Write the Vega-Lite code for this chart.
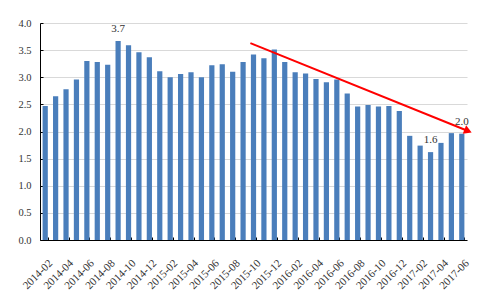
{
  "$schema": "https://vega.github.io/schema/vega-lite/v6.json",
  "width": 427,
  "height": 217,
  "autosize": "none",
  "padding": {"left": 40, "top": 23, "right": 25, "bottom": 61},
  "background": "white",
  "config": {"view": {"stroke": null}, "font": "Liberation Serif"},
  "datasets": {
    "bars": [
      {"month": "2014-02", "value": 2.47}, {"month": "2014-03", "value": 2.65}, {"month": "2014-04", "value": 2.78},
      {"month": "2014-05", "value": 2.96}, {"month": "2014-06", "value": 3.30}, {"month": "2014-07", "value": 3.28},
      {"month": "2014-08", "value": 3.23}, {"month": "2014-09", "value": 3.67}, {"month": "2014-10", "value": 3.59},
      {"month": "2014-11", "value": 3.46}, {"month": "2014-12", "value": 3.37}, {"month": "2015-01", "value": 3.11},
      {"month": "2015-02", "value": 3.00}, {"month": "2015-03", "value": 3.06}, {"month": "2015-04", "value": 3.09},
      {"month": "2015-05", "value": 3.00}, {"month": "2015-06", "value": 3.22}, {"month": "2015-07", "value": 3.24},
      {"month": "2015-08", "value": 3.10}, {"month": "2015-09", "value": 3.28}, {"month": "2015-10", "value": 3.42},
      {"month": "2015-11", "value": 3.35}, {"month": "2015-12", "value": 3.51}, {"month": "2016-01", "value": 3.28},
      {"month": "2016-02", "value": 3.09}, {"month": "2016-03", "value": 3.07}, {"month": "2016-04", "value": 2.97},
      {"month": "2016-05", "value": 2.91}, {"month": "2016-06", "value": 2.96}, {"month": "2016-07", "value": 2.70},
      {"month": "2016-08", "value": 2.46}, {"month": "2016-09", "value": 2.49}, {"month": "2016-10", "value": 2.46},
      {"month": "2016-11", "value": 2.47}, {"month": "2016-12", "value": 2.38}, {"month": "2017-01", "value": 1.92},
      {"month": "2017-02", "value": 1.74}, {"month": "2017-03", "value": 1.62}, {"month": "2017-04", "value": 1.79},
      {"month": "2017-05", "value": 1.97}, {"month": "2017-06", "value": 1.96}
    ],
    "arrow": [{"x": 20.2, "y": 3.63, "x2": 41.1, "y2": 2.01}]
  },
  "resolve": {"scale": {"x": "independent"}},
  "layer": [
    {
      "data": {"name": "bars"},
      "layer": [
        {
          "mark": {"type": "bar", "color": "#4a7ebb"},
          "encoding": {
            "x": {
              "field": "month", "type": "ordinal",
              "scale": {"paddingInner": 0.5, "paddingOuter": 0.25},
              "axis": {
                "title": null,
                "values": ["2014-02","2014-04","2014-06","2014-08","2014-10","2014-12","2015-02","2015-04","2015-06","2015-08","2015-10","2015-12","2016-02","2016-04","2016-06","2016-08","2016-10","2016-12","2017-02","2017-04","2017-06"],
                "labelAngle": -45, "labelAlign": "right", "labelBaseline": "top",
                "labelFontSize": 11, "labelColor": "#333333", "labelPadding": 20, "labelOffset": 1,
                "tickBand": "extent", "tickSize": -3, "tickColor": "#000000",
                "domainColor": "#000000", "grid": false
              }
            },
            "y": {
              "field": "value", "type": "quantitative",
              "scale": {"domain": [0, 4], "nice": false},
              "axis": {
                "title": null, "values": [0, 0.5, 1, 1.5, 2, 2.5, 3, 3.5, 4], "format": ".1f",
                "labelFontSize": 10.5, "labelColor": "#333333", "labelPadding": 12,
                "tickSize": -3, "tickColor": "#000000", "domainColor": "#000000",
                "gridColor": "#d9d9d9"
              }
            }
          }
        },
        {
          "transform": [{"filter": {"field": "month", "oneOf": ["2014-09", "2017-03", "2017-06"]}}],
          "mark": {"type": "text", "baseline": "middle", "dy": -12, "fontSize": 11, "color": "#333333", "font": "Liberation Serif"},
          "encoding": {
            "x": {"field": "month", "type": "ordinal"},
            "y": {
              "field": "value", "type": "quantitative",
              "scale": {"domain": [0, 4], "nice": false},
              "axis": {
                "title": null, "values": [0, 0.5, 1, 1.5, 2, 2.5, 3, 3.5, 4], "format": ".1f",
                "labelFontSize": 10.5, "labelColor": "#333333", "labelPadding": 12,
                "tickSize": -3, "tickColor": "#000000", "domainColor": "#000000",
                "gridColor": "#d9d9d9"
              }
            },
            "text": {"field": "value", "type": "quantitative", "format": ".1f"}
          }
        }
      ]
    },
    {
      "data": {"name": "arrow"},
      "layer": [
        {
          "mark": {"type": "rule", "color": "#ff0000", "strokeWidth": 2},
          "encoding": {
            "x": {"field": "x", "type": "quantitative", "scale": {"domain": [0, 41], "nice": false, "zero": false}, "axis": null},
            "y": {
              "field": "y", "type": "quantitative",
              "scale": {"domain": [0, 4], "nice": false},
              "axis": {
                "title": null, "values": [0, 0.5, 1, 1.5, 2, 2.5, 3, 3.5, 4], "format": ".1f",
                "labelFontSize": 10.5, "labelColor": "#333333", "labelPadding": 12,
                "tickSize": -3, "tickColor": "#000000", "domainColor": "#000000",
                "gridColor": "#d9d9d9"
              }
            },
            "x2": {"field": "x2"},
            "y2": {"field": "y2"}
          }
        },
        {
          "mark": {"type": "point", "shape": "triangle-right", "filled": true, "color": "#ff0000", "opacity": 1, "size": 80, "angle": 22},
          "encoding": {
            "x": {"field": "x2", "type": "quantitative", "scale": {"domain": [0, 41], "nice": false, "zero": false}, "axis": null},
            "y": {
              "field": "y2", "type": "quantitative",
              "scale": {"domain": [0, 4], "nice": false},
              "axis": {
                "title": null, "values": [0, 0.5, 1, 1.5, 2, 2.5, 3, 3.5, 4], "format": ".1f",
                "labelFontSize": 10.5, "labelColor": "#333333", "labelPadding": 12,
                "tickSize": -3, "tickColor": "#000000", "domainColor": "#000000",
                "gridColor": "#d9d9d9"
              }
            }
          }
        }
      ]
    }
  ]
}
